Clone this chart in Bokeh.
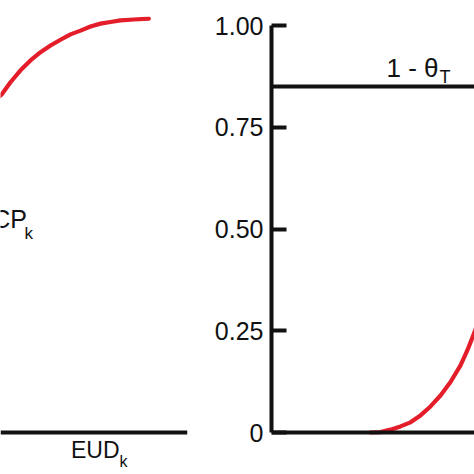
from bokeh.plotting import figure
from bokeh.layouts import row
from bokeh.models import Range1d, FixedTicker, CustomJSTickFormatter, Span, LinearAxis
from bokeh.core.properties import value
from bokeh.embed import file_html
from bokeh.resources import INLINE

# ---- data ----
left_eud = [36.5, 37.89, 40.67, 44.02, 47.37, 50.73, 54.08, 57.43, 60.78, 64.14,
            67.49, 70.84, 74.19, 77.54, 82.0, 87.03]
left_tcp = [0.811, 0.820, 0.848, 0.877, 0.901, 0.921, 0.937, 0.951, 0.964, 0.973,
            0.983, 0.990, 0.994, 0.998, 1.000, 1.002]

right_eud = [29.26, 32.22, 35.17, 38.13, 41.08, 44.04, 46.99, 49.95, 52.91, 55.86, 57.84, 59.79, 62.0]
right_ntcp = [0.0, 0.001, 0.007, 0.015, 0.025, 0.042, 0.064, 0.091, 0.124, 0.165, 0.201, 0.242, 0.29]

threshold_level = 0.85  # 1 - theta_T

y_ticks = [0, 0.25, 0.5, 0.75, 1.0]
y_tick_labels = ["0", "0.25", "0.50", "0.75", "1.00"]

FONT = "Liberation Sans"
RED = "#e31e2a"
BLACK = "#111111"


def txt(fig, x, y, s, size, align="left"):
    fig.text(x=[x], y=[y], text=[s], text_font=value(FONT), text_font_size=value(f"{size}px"),
             text_align=align, text_baseline="alphabetic", text_color=BLACK,
             y_offset=-0.36 * size)


def flat_axis(color=BLACK):
    return LinearAxis(fixed_location=0, ticker=FixedTicker(ticks=[]),
                      axis_line_width=4, axis_line_color=color,
                      major_tick_line_color=None, minor_tick_line_color=None,
                      major_label_text_font_size="0px")


# ---- left panel ----
left = figure(width=208, height=474, output_backend="svg", toolbar_location=None,
              x_range=Range1d(37.32, 100), y_range=Range1d(-42 / 413, 416 / 413),
              x_axis_location=None, y_axis_location=None,
              min_border_left=0, min_border_right=21, min_border_top=16, min_border_bottom=0)
left.line(left_eud, left_tcp, line_color=RED, line_width=4.2, line_cap="round", line_join="round")
left.add_layout(flat_axis(), "below")
left.xgrid.visible = False
left.ygrid.visible = False
left.outline_line_color = None

txt(left, 46.2, 0.494, "TCP", 25, "right")
txt(left, 45.4, 0.467, "k", 17)
txt(left, 60.95, -0.063, "EUD", 23)
txt(left, 77.2, -0.0847, "k", 16)

# ---- right panel ----
right = figure(width=266, height=474, output_backend="svg", toolbar_location=None,
               x_range=Range1d(0, 60), y_range=Range1d(-42 / 407, 416 / 407),
               x_axis_location=None,
               min_border_left=63, min_border_right=0, min_border_top=16, min_border_bottom=0)
right.line(right_eud, right_ntcp, line_color=RED, line_width=4.2, line_cap="round", line_join="round")
right.add_layout(Span(location=threshold_level, dimension="width", line_color=BLACK, line_width=4))
right.add_layout(flat_axis(), "below")

yax = right.yaxis[0]
yax.bounds = (0, 1)
yax.ticker = FixedTicker(ticks=y_ticks)
yax.formatter = CustomJSTickFormatter(args=dict(yt=y_ticks, yl=y_tick_labels),
                                      code="const i = yt.indexOf(tick); return i >= 0 ? yl[i] : '';")
yax.axis_line_width = 4
yax.axis_line_color = BLACK
yax.major_tick_line_width = 4
yax.major_tick_line_color = BLACK
yax.major_tick_in = 15
yax.major_tick_out = 0
yax.minor_tick_line_color = None
yax.major_label_standoff = 8
yax.major_label_text_font = FONT
yax.major_label_text_font_size = "25px"
yax.major_label_text_color = BLACK

right.xgrid.visible = False
right.ygrid.visible = False
right.outline_line_color = None

txt(right, 34.0, 0.872, "1 - θ", 26)
txt(right, 49.65, 0.8575, "T", 18)

p = row(left, right)
open("out.html", "w").write(file_html(p, INLINE))
